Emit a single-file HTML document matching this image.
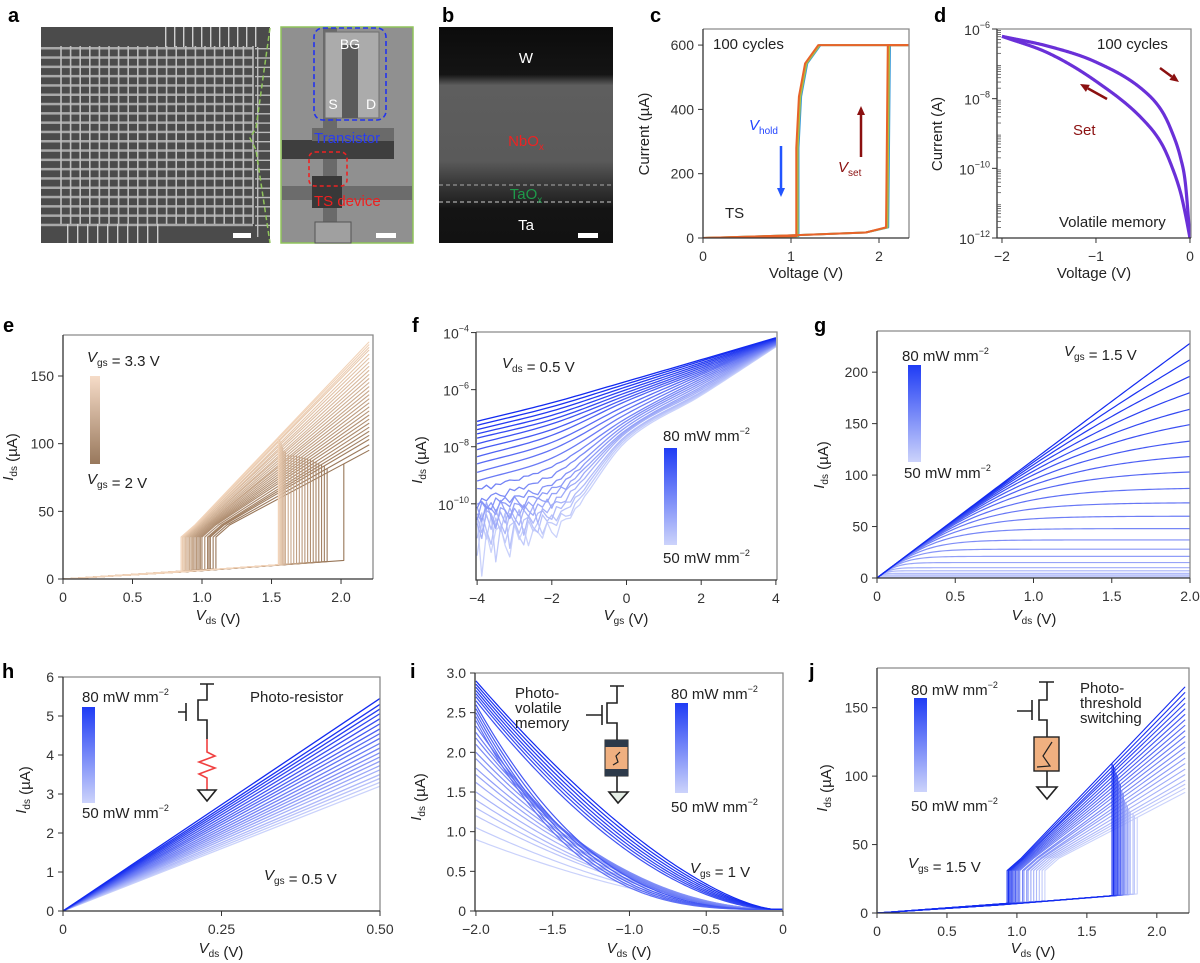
<!DOCTYPE html>
<html><head><meta charset="utf-8"><style>
html,body{margin:0;padding:0;background:#fff;}
svg{display:block;font-family:"Liberation Sans",sans-serif;}
</style></head><body>
<svg id="fig" width="1200" height="963" viewBox="0 0 1200 963" xmlns="http://www.w3.org/2000/svg">
<defs>
<linearGradient id="gBlue" x1="0" y1="0" x2="0" y2="1"><stop offset="0" stop-color="#1f3cf5"/><stop offset="1" stop-color="#ccd3fb"/></linearGradient>
<linearGradient id="gBrown" x1="0" y1="0" x2="0" y2="1"><stop offset="0" stop-color="#f6dcc8"/><stop offset="1" stop-color="#98785c"/></linearGradient>
<linearGradient id="gB" x1="0" y1="0" x2="0" y2="1"><stop offset="0" stop-color="#0c0c0c"/><stop offset="0.22" stop-color="#141414"/><stop offset="0.27" stop-color="#5e5e5e"/><stop offset="0.62" stop-color="#5a5a5a"/><stop offset="0.72" stop-color="#3a3a3a"/><stop offset="0.8" stop-color="#262626"/><stop offset="0.84" stop-color="#141414"/><stop offset="1" stop-color="#121212"/></linearGradient>
</defs>
</svg>
<script>
const NS='http://www.w3.org/2000/svg';
const svg=document.getElementById('fig');
function el(tag,attrs,name,parent){
  const e=document.createElementNS(NS,tag);
  for(const k in attrs)e.setAttribute(k,attrs[k]);
  
  
  (parent||svg).appendChild(e);return e;
}
function txt(x,y,html,name,o){
  o=o||{};
  const t=el('text',{x:x,y:y,'font-size':o.fs||14,fill:o.fill||'#222','text-anchor':o.anchor||'start'},name);
  if(o.bold)t.setAttribute('font-weight','bold');
  if(o.rot)t.setAttribute('transform','rotate(-90 '+x+' '+y+')');
  t.innerHTML=html;return t;
}
const sub=s=>'<tspan font-size="10" dy="4">'+s+'</tspan><tspan dy="-4"></tspan>';
const sup=s=>'<tspan font-size="9" dy="-7">'+s+'</tspan><tspan dy="7"></tspan>';
const it=s=>'<tspan font-style="italic">'+s+'</tspan>';
const IDS=it('I')+sub('ds')+' (µA)';

/* ---------- chart data ---------- */
// c: threshold switching I-V (V, µA)
const cUpV=[0,1.0,1.85,2.08,2.1,2.34];
const cUpI=[0,8,17,33,600,600];
const cDnV=[2.34,1.31,1.16,1.09,1.06,1.06,0];
const cDnI=[600,600,543,440,280,6,0];
// d: volatile memory log10(A)
const dV=[-2,-1.5,-1,-0.5,-0.3,-0.2,-0.1,-0.05,0];
const dUp=[-6.21,-6.5,-6.95,-7.75,-8.35,-8.9,-9.7,-10.4,-12];
const dLo=[-6.21,-6.7,-7.5,-8.6,-9.3,-9.9,-10.7,-11.3,-12];
// e: Vgs 2..3.3 V sweep
const eHold=[1.1,1.08,1.06,1.05,1.04,1.02,1.0,0.99,0.98,0.97,0.96,0.95,0.94,0.93,0.93,0.92,0.91,0.9,0.9,0.89,0.88,0.88,0.87,0.87,0.86,0.86,0.85,0.85];
const eSet=[2.02,1.9,1.88,1.86,1.84,1.82,1.8,1.78,1.76,1.74,1.72,1.7,1.68,1.66,1.64,1.62,1.6,1.6,1.59,1.58,1.58,1.57,1.57,1.56,1.56,1.55,1.55,1.55];
const eEnd=[95,99,103,106,109,112,115,118,121,124,127,130,133,136,139,142,145,148,151,154,157,160,163,166,169,171,173,175];
// f: transfer curves log10(A) at Vgs = -4,-2,0,2,4
const fX=[-4,-2,0,2,4];
const fM4=[-7.11,-7.25,-7.4,-7.55,-7.7,-7.9,-8.1,-8.35,-8.6,-8.9,-9.2,-9.5,-9.9,-10.1,-10.2,-10.3,-10.4,-10.5,-10.6,-10.8,-11.0,-11.2];
const fM2=[-6.46,-6.6,-6.75,-6.9,-7.05,-7.2,-7.4,-7.6,-7.85,-8.1,-8.4,-8.7,-9.0,-9.3,-9.5,-9.7,-9.9,-10.1,-10.3,-10.5,-10.7,-10.9];
const f0=[-5.71,-5.8,-5.9,-6.0,-6.1,-6.2,-6.3,-6.4,-6.55,-6.7,-6.85,-7.0,-7.1,-7.2,-7.3,-7.4,-7.45,-7.5,-7.6,-7.65,-7.72,-7.8];
const fP2=[-4.95,-5.0,-5.06,-5.12,-5.18,-5.24,-5.3,-5.36,-5.42,-5.48,-5.55,-5.62,-5.69,-5.76,-5.83,-5.9,-5.96,-6.02,-6.08,-6.12,-6.16,-6.2];
const fP4=[-4.18,-4.2,-4.22,-4.24,-4.26,-4.28,-4.3,-4.32,-4.34,-4.36,-4.38,-4.4,-4.41,-4.42,-4.43,-4.44,-4.45,-4.46,-4.47,-4.48,-4.49,-4.5];
const fNoise=[0.3,-0.5,0.6,-0.2,-0.9,0.4,-0.3,0.7,-1.4,0.2,-0.6,0.3,0.5,-0.4,-1.0,0.6,-0.2,0.4,-0.7,0.3,0.1,-0.5,0.8,-0.3,-1.2,0.4,0.2,-0.6];
// g: output curves, current at Vds = 2 V (µA)
const gEnd=[228,212,196,180,164,149,133,118,103,87,73,60,48,37,28,21,15,10,7,4.5,3,1.8,1];
// h: photo-resistor current at 0.5 V (µA)
const hEnd=[5.45,5.3,5.18,5.06,4.93,4.8,4.67,4.55,4.43,4.3,4.18,4.06,3.95,3.84,3.73,3.62,3.5,3.4,3.3,3.2];
// i: photo-volatile memory, current at -2 V and decay exponent
const iStart=[2.9,2.86,2.82,2.78,2.74,2.7,2.65,2.6,2.55,2.5,2.45,2.4,2.33,2.25,2.18,2.1,2.0,1.92,1.8,1.72,1.62,1.5,1.4,1.3,1.2,1.05,0.9];
const iPow=[1.5,1.55,1.6,1.65,1.7,1.75,1.8,2.6,2.7,2.8,2.9,3.0,2.4,2.3,2.2,2.1,2.0,2.0,1.9,1.9,1.85,1.8,1.8,1.75,1.7,1.7,1.65];
// j: photo threshold switching
const jHold=[0.93,0.94,0.95,0.95,0.96,0.97,0.98,0.99,1.0,1.01,1.02,1.04,1.05,1.07,1.08,1.1,1.12,1.14,1.16,1.18,1.2];
const jSet=[1.68,1.69,1.7,1.7,1.71,1.72,1.72,1.73,1.74,1.74,1.75,1.76,1.76,1.77,1.78,1.79,1.8,1.81,1.83,1.84,1.86];
const jEnd=[165,161,157,153,149,145,141,137,133,129,125,121,117,113,109,105,101,97,94,91,88];

/* ---------- helpers ---------- */
function mixCol(a,b,t){return 'rgb('+a.map((v,i)=>Math.round(v+(b[i]-v)*t)).join(',')+')';}
const BD=[18,42,240],BL=[202,210,251];
let clipN=0;
function panel(c){
  const g=el('g',{},c.name);
  const sx=v=>c.l+(v-c.xmin)/(c.xmax-c.xmin)*(c.r-c.l);
  const sy=v=>c.b-(v-c.ymin)/(c.ymax-c.ymin)*(c.b-c.t);
  clipN++;
  const cp=el('clipPath',{id:'cp'+clipN},c.name+'-clip',g);
  el('rect',{x:c.l,y:c.t,width:c.r-c.l,height:c.b-c.t},c.name+'-clip-rect',cp);
  const plot=el('g',{'clip-path':'url(#cp'+clipN+')'},c.name+'-plot-area',g);
  const axes=el('g',{},c.name+'-axes',g);
  el('path',{d:'M'+c.l+','+c.t+'H'+c.r+'V'+c.b,fill:'none',stroke:'#8a8a8a','stroke-width':1.3},c.name+'-frame',axes);
  el('path',{d:'M'+c.l+','+c.t+'V'+c.b+'H'+c.r,fill:'none',stroke:'#333','stroke-width':1.3},c.name+'-axis-lines',axes);
  c.xt.forEach((v,i)=>{const x=sx(v);
    el('line',{x1:x,x2:x,y1:c.b,y2:c.b+5,stroke:'#333'},c.name+'-x-tick',axes);
    txt(x,c.b+23,c.xl[i],c.name+'-x-tick-label',{anchor:'middle',fs:14,fill:'#333'});});
  c.yt.forEach((v,i)=>{const y=sy(v);
    el('line',{x1:c.l-5,x2:c.l,y1:y,y2:y,stroke:'#333'},c.name+'-y-tick',axes);
    txt(c.l-9,y+5,c.yl[i],c.name+'-y-tick-label',{anchor:'end',fs:14,fill:'#333'});});
  return {sx,sy,plot,axes};
}
function poly(p,pts,stroke,w,name){
  return el('polyline',{points:pts.map(q=>q[0].toFixed(2)+','+q[1].toFixed(2)).join(' '),fill:'none',stroke:stroke,'stroke-width':w,'stroke-linejoin':'round'},name,p);
}
// monotone cubic (Fritsch-Carlson) interpolation, works with non-uniform x
function cr(xs,ys,x){
  const n=xs.length;
  const d=[],m=new Array(n);
  for(let i=0;i<n-1;i++)d.push((ys[i+1]-ys[i])/(xs[i+1]-xs[i]));
  m[0]=d[0];m[n-1]=d[n-2];
  for(let i=1;i<n-1;i++)m[i]=(d[i-1]*d[i]<=0)?0:(d[i-1]+d[i])/2;
  for(let i=0;i<n-1;i++){if(d[i]===0){m[i]=0;m[i+1]=0;continue;}
    const a=m[i]/d[i],b=m[i+1]/d[i],s=a*a+b*b;
    if(s>9){const t=3/Math.sqrt(s);m[i]=t*a*d[i];m[i+1]=t*b*d[i];}}
  let i=0;while(i<n-2&&x>xs[i+1])i++;
  const h=xs[i+1]-xs[i],t=(x-xs[i])/h;
  const h00=2*t*t*t-3*t*t+1,h10=t*t*t-2*t*t+t,h01=-2*t*t*t+3*t*t,h11=t*t*t-t*t;
  return h00*ys[i]+h10*h*m[i]+h01*ys[i+1]+h11*h*m[i+1];
}
function colorbar(x,y1,y2,grad,name,top,bottom,w){
  el('rect',{x:x,y:y1,width:w||13,height:y2-y1,fill:'url(#'+grad+')'},name,svg);
  if(top)txt(top[0],top[1],top[2],name+'-top-label',{fs:15});
  if(bottom)txt(bottom[0],bottom[1],bottom[2],name+'-bottom-label',{fs:15});
}
function arrow(x1,y1,x2,y2,col,name){
  const a=Math.atan2(y2-y1,x2-x1),L=9,W=4;
  const bx=x2-L*Math.cos(a),by=y2-L*Math.sin(a);
  el('line',{x1:x1,y1:y1,x2:bx,y2:by,stroke:col,'stroke-width':2.5},name,svg);
  el('polygon',{points:[x2,y2,bx+W*Math.sin(a),by-W*Math.cos(a),bx-W*Math.sin(a),by+W*Math.cos(a)].join(','),fill:col},name+'-head',svg);
}
const MW='80 mW mm'+sup('−2'), MW5='50 mW mm'+sup('−2');

/* ---------- panel letters ---------- */
[['a',8,22],['b',442,22],['c',650,22],['d',934,22],['e',3,332],['f',412,332],['g',814,332],['h',2,678],['i',410,678],['j',809,678]].forEach(p=>{
  txt(p[1],p[2],p[0],'panel-letter-'+p[0],{fs:20,bold:true,fill:'#000'});
});

/* ---------- panel a images ---------- */
(function(){
  el('rect',{x:41,y:27,width:229,height:216,fill:'#4b4b4b'},'sem-array-image');
  for(let k=0;k<20;k++){const y=48+k*9.3;
    el('rect',{x:41,y:y-1,width:212,height:2.5,fill:'#a9a9a9'},'array-row-line');
  }
  for(let k=0;k<21;k++){const x=61+k*9.6;
    el('rect',{x:x-0.8,y:46,width:1.6,height:178,fill:'#bdbdbd'},'array-col-line');
  }
  for(let k=0;k<11;k++){el('rect',{x:165+k*9,y:27,width:1.4,height:20,fill:'#cfcfcf'},'array-top-pad');}
  for(let k=0;k<10;k++){el('rect',{x:67+k*10,y:224,width:1.4,height:19,fill:'#cfcfcf'},'array-bottom-pad');}
  for(let k=0;k<20;k++){el('rect',{x:255,y:48+k*9.3,width:15,height:1.4,fill:'#bbb'},'array-right-pad');}
  el('rect',{x:257,y:47,width:1.4,height:190,fill:'#bbb'},'array-right-bus');
  el('rect',{x:233,y:233,width:18,height:5,fill:'#fff'},'scale-bar-a1');
  el('path',{d:'M270,28 L256,128 L250,138 L256,150 L270,243',fill:'none',stroke:'#8fc45a','stroke-width':1.5,'stroke-dasharray':'5,3'},'zoom-guide');
  el('rect',{x:281,y:27,width:132,height:216,fill:'#909090',stroke:'#8fc45a','stroke-width':1.5},'sem-device-image');
  el('rect',{x:323,y:28,width:14,height:214,fill:'#6a6a6a'},'gate-stripe');
  el('rect',{x:325,y:32,width:54,height:86,fill:'#ababab',stroke:'#6e6e6e'},'transistor-region');
  el('rect',{x:342,y:45,width:16,height:73,fill:'#5a5a5a'},'bg-channel');
  el('rect',{x:282,y:140,width:112,height:19,fill:'#3e3e3e'},'horizontal-bar');
  el('rect',{x:312,y:128,width:82,height:13,fill:'#6a6a6a'},'transistor-contact');
  el('rect',{x:282,y:186,width:130,height:14,fill:'#6c6c6c'},'ts-line');
  el('rect',{x:312,y:176,width:30,height:32,fill:'#383838'},'ts-block');
  el('rect',{x:315,y:222,width:36,height:21,fill:'#a0a0a0',stroke:'#555'},'bottom-pad');
  el('rect',{x:314,y:28,width:72,height:92,rx:9,fill:'none',stroke:'#2233ee','stroke-width':1.6,'stroke-dasharray':'5,3'},'transistor-box');
  el('rect',{x:309,y:152,width:38,height:34,rx:6,fill:'none',stroke:'#ee2222','stroke-width':1.6,'stroke-dasharray':'4,3'},'ts-device-box');
  txt(350,49,'BG','bg-label',{fs:14,fill:'#fff',anchor:'middle'});
  txt(333,109,'S','s-label',{fs:14,fill:'#fff',anchor:'middle'});
  txt(371,109,'D','d-label',{fs:14,fill:'#fff',anchor:'middle'});
  txt(314,143,'Transistor','transistor-label',{fs:15,fill:'#2a3cf0'});
  txt(314,206,'TS device','ts-device-label',{fs:15,fill:'#ee2020'});
  el('rect',{x:376,y:233,width:20,height:5,fill:'#fff'},'scale-bar-a2');
  el('rect',{x:439,y:27,width:174,height:216,fill:'url(#gB)'},'tem-image');
  el('line',{x1:439,x2:613,y1:185,y2:185,stroke:'#aaa','stroke-dasharray':'4,3'},'interface-line-1');
  el('line',{x1:439,x2:613,y1:202,y2:202,stroke:'#ccc','stroke-dasharray':'4,3'},'interface-line-2');
  txt(526,63,'W','w-label',{fs:15,fill:'#fff',anchor:'middle'});
  txt(526,146,'NbO'+'<tspan font-size="10" dy="4">x</tspan>','nbox-label',{fs:15,fill:'#ee2222',anchor:'middle'});
  txt(526,199,'TaO'+'<tspan font-size="10" dy="4">x</tspan>','taox-label',{fs:15,fill:'#1e9a4a',anchor:'middle'});
  txt(526,230,'Ta','ta-label',{fs:15,fill:'#fff',anchor:'middle'});
  el('rect',{x:578,y:233,width:20,height:5,fill:'#fff'},'scale-bar-b');
})();

/* ---------- panel c ---------- */
(function(){
  const P=panel({name:'panel-c',l:703,r:909,t:29,b:238,xmin:0,xmax:2.341,ymin:0,ymax:650,xt:[0,1,2],xl:['0','1','2'],yt:[0,200,400,600],yl:['0','200','400','600']});
  [['#3a9ad8',0.025],['#b0c040',0.015],['#e8632a',0]].forEach((s,k)=>{
    const up=cUpV.map((v,i)=>[P.sx(v+(i>=3&&i<5?s[1]:0)),P.sy(cUpI[i])]);
    poly(P.plot,up,s[0],2,'c-sweep-up');
    const dn=cDnV.map((v,i)=>[P.sx(v+(i>0?s[1]:0)),P.sy(cDnI[i])]);
    poly(P.plot,dn,s[0],2,'c-sweep-down');
  });
  txt(806,278,'Voltage (V)','c-x-axis-title',{anchor:'middle',fs:15});
  txt(649,134,'Current (µA)','c-y-axis-title',{anchor:'middle',fs:15,rot:true});
  txt(713,49,'100 cycles','c-annotation-cycles',{fs:15});
  txt(725,218,'TS','c-annotation-ts',{fs:15});
  txt(749,130,it('V')+sub('hold'),'c-vhold-label',{fs:15,fill:'#2244ff'});
  arrow(781,146,781,197,'#2255ff','c-vhold-arrow');
  txt(838,172,it('V')+sub('set'),'c-vset-label',{fs:15,fill:'#8b1010'});
  arrow(861,157,861,106,'#8b1010','c-vset-arrow');
})();

/* ---------- panel d ---------- */
(function(){
  const P=panel({name:'panel-d',l:997,r:1191,t:29,b:238,xmin:-2.053,xmax:0.011,ymin:-12,ymax:-6,xt:[-2,-1,0],xl:['−2','−1','0'],yt:[],yl:[]});
  [-6,-8,-10,-12].forEach(e=>{const y=P.sy(e);
    el('line',{x1:992,x2:997,y1:y,y2:y,stroke:'#333'},'d-y-tick',P.axes);
    txt(990,y+6,'10'+sup('−'+(-e)),'d-y-tick-label',{anchor:'end',fs:14,fill:'#333'});});
  for(let e=-12;e<-6;e++)for(let m=2;m<10;m++){const y=P.sy(e+Math.log10(m));
    el('line',{x1:997,x2:1001,y1:y,y2:y,stroke:'#555','stroke-width':0.8},'d-minor-tick',P.axes);}
  [dUp,dLo].forEach((arr,k)=>{
    const pts=[];for(let v=-2;v<=0.0001;v+=0.005){pts.push([P.sx(v),P.sy(cr(dV,arr,v))]);}
    poly(P.plot,pts,'#6a30d8',3.2,'d-curve-'+k);
  });
  txt(1094,278,'Voltage (V)','d-x-axis-title',{anchor:'middle',fs:15});
  txt(942,134,'Current (A)','d-y-axis-title',{anchor:'middle',fs:15,rot:true});
  txt(1097,49,'100 cycles','d-annotation-cycles',{fs:15});
  txt(1059,227,'Volatile memory','d-annotation-volatile',{fs:15});
  txt(1073,135,'Set','d-set-label',{fs:15,fill:'#8b1010'});
  arrow(1107,99,1080,84,'#8b1010','d-arrow-left');
  arrow(1160,68,1179,82,'#8b1010','d-arrow-right');
})();

/* ---------- threshold switching families (e, j) ---------- */
function tsFamily(P,hold,set,end,lowK,cFn,name){
  const n=hold.length;
  for(let i=0;i<n;i++){
    const t=i/(n-1);
    const h0=31, hk=h0+9;
    const highAt=v=>v<=hold[i]+0.1? h0+(hk-h0)*(v-hold[i])/0.1 : hk+(end[i]-hk)*(v-hold[i]-0.1)/(2.2-hold[i]-0.1);
    const pts=[[0,0],[set[i]*0.5,lowK*set[i]*0.45],[set[i],lowK*set[i]],[set[i],highAt(set[i])],[2.2,end[i]],[hold[i]+0.1,hk],[hold[i],h0],[hold[i],lowK*hold[i]],[0,0]];
    poly(P.plot,pts.map(q=>[P.sx(q[0]),P.sy(q[1])]),cFn(t),1.1,name);
  }
}
/* ---------- panel e ---------- */
(function(){
  const P=panel({name:'panel-e',l:63,r:373,t:335,b:579,xmin:0,xmax:2.23,ymin:0,ymax:180.3,xt:[0,0.5,1,1.5,2],xl:['0','0.5','1.0','1.5','2.0'],yt:[0,50,100,150],yl:['0','50','100','150']});
  tsFamily(P,eHold,eSet,eEnd,6.8,t=>mixCol([152,118,88],[242,212,186],t),'e-curve');
  txt(218,620,it('V')+sub('ds')+' (V)','e-x-axis-title',{anchor:'middle',fs:15});
  txt(13,457,IDS,'e-y-axis-title',{anchor:'middle',fs:15,rot:true});
  colorbar(90,376,464,'gBrown','e-colorbar',[87,362,it('V')+sub('gs')+' = 3.3 V'],[87,484,it('V')+sub('gs')+' = 2 V'],10);
})();

/* ---------- panel f ---------- */
(function(){
  const P=panel({name:'panel-f',l:476,r:777,t:332,b:580,xmin:-4.03,xmax:4.03,ymin:-12.67,ymax:-3.98,xt:[-4,-2,0,2,4],xl:['−4','−2','0','2','4'],yt:[],yl:[]});
  [-4,-6,-8,-10].forEach(e=>{const y=P.sy(e);
    el('line',{x1:471,x2:476,y1:y,y2:y,stroke:'#333'},'f-y-tick',P.axes);
    txt(469,y+6,'10'+sup('−'+(-e)),'f-y-tick-label',{anchor:'end',fs:14,fill:'#333'});});
  const n=fM4.length;
  for(let i=n-1;i>=0;i--){
    const ys=[fM4[i],fM2[i],f0[i],fP2[i],fP4[i]];
    const pts=[];
    for(let k=0;k<=64;k++){const v=-4+k*0.125;
      let y=cr(fX,ys,v);
      if(i>=11&&v<-1){const amp=(i-10)/11*(-1-v)/3;y+=amp*fNoise[(k+i*3)%fNoise.length];}
      pts.push([P.sx(v),P.sy(y)]);}
    poly(P.plot,pts,mixCol(BD,BL,i/(n-1)),1.3,'f-curve');
  }
  txt(626,620,it('V')+sub('gs')+' (V)','f-x-axis-title',{anchor:'middle',fs:15});
  txt(422,460,IDS,'f-y-axis-title',{anchor:'middle',fs:15,rot:true});
  txt(502,368,it('V')+sub('ds')+' = 0.5 V','f-vds-annotation',{fs:15});
  colorbar(664,448,545,'gBlue','f-colorbar',[663,441,MW],[663,563,MW5]);
})();

/* ---------- panel g ---------- */
(function(){
  const P=panel({name:'panel-g',l:877,r:1190,t:331,b:578,xmin:0,xmax:2,ymin:0,ymax:240,xt:[0,0.5,1,1.5,2],xl:['0','0.5','1.0','1.5','2.0'],yt:[0,50,100,150,200],yl:['0','50','100','150','200']});
  const k0=115;
  const n=gEnd.length;
  for(let i=n-1;i>=0;i--){
    let lo=gEnd[i]*0.5,hi=1e6;
    for(let it2=0;it2<80;it2++){const m=(lo+hi)/2; if(m*Math.tanh(k0*2/m)>gEnd[i])hi=m;else lo=m;}
    const S=(lo+hi)/2;
    const pts=[];for(let v=0;v<=2.0001;v+=0.02)pts.push([P.sx(v),P.sy(S*Math.tanh(k0*v/S))]);
    poly(P.plot,pts,mixCol(BD,BL,i/(n-1)),1.2,'g-curve');
  }
  txt(1034,620,it('V')+sub('ds')+' (V)','g-x-axis-title',{anchor:'middle',fs:15});
  txt(824,465,IDS,'g-y-axis-title',{anchor:'middle',fs:15,rot:true});
  txt(1064,356,it('V')+sub('gs')+' = 1.5 V','g-vgs-annotation',{fs:15});
  colorbar(908,365,462,'gBlue','g-colorbar',[902,361,MW],[904,478,MW5]);
})();

/* ---------- panel h ---------- */
(function(){
  const P=panel({name:'panel-h',l:63,r:380,t:677,b:911,xmin:0,xmax:0.5,ymin:0,ymax:6,xt:[0,0.25,0.5],xl:['0','0.25','0.50'],yt:[0,1,2,3,4,5,6],yl:['0','1','2','3','4','5','6']});
  const n=hEnd.length;
  for(let i=n-1;i>=0;i--)poly(P.plot,[[P.sx(0),P.sy(0)],[P.sx(0.5),P.sy(hEnd[i])]],mixCol(BD,BL,i/(n-1)),1.3,'h-line');
  txt(221,953,it('V')+sub('ds')+' (V)','h-x-axis-title',{anchor:'middle',fs:15});
  txt(26,790,IDS,'h-y-axis-title',{anchor:'middle',fs:15,rot:true});
  txt(250,702,'Photo-resistor','h-annotation',{fs:15});
  txt(264,880,it('V')+sub('gs')+' = 0.5 V','h-vgs-annotation',{fs:15});
  colorbar(82,707,803,'gBlue','h-colorbar',[82,702,MW],[82,818,MW5]);
  const C='#222';
  el('path',{d:'M200,684H214M207,684V700H198V720H207V739M186,703V721M178,712H186',fill:'none',stroke:C,'stroke-width':1.6},'h-transistor-symbol');
  el('path',{d:'M207,739V752L215,756L199,762L215,768L199,774L207,778V790',fill:'none',stroke:'#f04040','stroke-width':1.6},'h-resistor-symbol');
  el('path',{d:'M198,790H216L207,801Z',fill:'none',stroke:C,'stroke-width':1.6},'h-ground-symbol');
})();

/* ---------- panel i ---------- */
(function(){
  const P=panel({name:'panel-i',l:475,r:783,t:673,b:911,xmin:-2.006,xmax:0,ymin:0,ymax:3,xt:[-2,-1.5,-1,-0.5,0],xl:['−2.0','−1.5','−1.0','−0.5','0'],yt:[0,0.5,1,1.5,2,2.5,3],yl:['0','0.5','1.0','1.5','2.0','2.5','3.0']});
  const n=iStart.length,V0=-0.05;
  for(let i=n-1;i>=0;i--){
    const pts=[];for(let v=-2;v<=0.0001;v+=0.02){
      const r=v<V0?(v-V0)/(-2-V0):0;
      pts.push([P.sx(v),P.sy(0.02+(iStart[i]-0.02)*Math.pow(r,iPow[i]))]);}
    poly(P.plot,pts,mixCol(BD,BL,i/(n-1)),1.2,'i-curve');
  }
  txt(629,953,it('V')+sub('ds')+' (V)','i-x-axis-title',{anchor:'middle',fs:15});
  txt(421,797,IDS,'i-y-axis-title',{anchor:'middle',fs:15,rot:true});
  txt(515,698,'Photo-','i-annotation-1',{fs:15});
  txt(515,713,'volatile','i-annotation-2',{fs:15});
  txt(515,728,'memory','i-annotation-3',{fs:15});
  txt(690,873,it('V')+sub('gs')+' = 1 V','i-vgs-annotation',{fs:15});
  colorbar(675,703,793,'gBlue','i-colorbar',[671,699,MW],[671,812,MW5]);
  const C='#222';
  el('path',{d:'M610,686H624M617,686V703H607V723H617V740M602,705V725M586,715H602',fill:'none',stroke:C,'stroke-width':1.6},'i-transistor-symbol');
  el('rect',{x:605,y:740,width:23,height:36,fill:'#f0b080',stroke:C},'i-memory-body');
  el('rect',{x:605,y:740,width:23,height:7,fill:'#2d3a4a'},'i-memory-cap-top');
  el('rect',{x:605,y:769,width:23,height:7,fill:'#2d3a4a'},'i-memory-cap-bottom');
  el('path',{d:'M620,752L616,756L618,762L613,765',fill:'none',stroke:C,'stroke-width':1.2},'i-filament');
  el('path',{d:'M617,776V792M609,792H628L618,803Z',fill:'#e6efe6',stroke:C,'stroke-width':1.6},'i-ground-symbol');
})();

/* ---------- panel j ---------- */
(function(){
  const P=panel({name:'panel-j',l:877,r:1189,t:668,b:913,xmin:0,xmax:2.23,ymin:0,ymax:179,xt:[0,0.5,1,1.5,2],xl:['0','0.5','1.0','1.5','2.0'],yt:[0,50,100,150],yl:['0','50','100','150']});
  tsFamily(P,jHold.slice().reverse(),jSet.slice().reverse(),jEnd.slice().reverse(),7.5,t=>mixCol(BL,BD,t),'j-curve');
  txt(1033,953,it('V')+sub('ds')+' (V)','j-x-axis-title',{anchor:'middle',fs:15});
  txt(827,788,IDS,'j-y-axis-title',{anchor:'middle',fs:15,rot:true});
  txt(1080,693,'Photo-','j-annotation-1',{fs:15});
  txt(1080,708,'threshold','j-annotation-2',{fs:15});
  txt(1080,723,'switching','j-annotation-3',{fs:15});
  txt(908,868,it('V')+sub('gs')+' = 1.5 V','j-vgs-annotation',{fs:15});
  colorbar(914,698,792,'gBlue','j-colorbar',[911,695,MW],[911,811,MW5]);
  const C='#222';
  el('path',{d:'M1039,682H1054M1047,682V700H1039V720H1047V737M1032,700V720M1017,711H1032',fill:'none',stroke:C,'stroke-width':1.6},'j-transistor-symbol');
  el('rect',{x:1034,y:737,width:25,height:34,fill:'#f0b080',stroke:C,'stroke-width':1.4},'j-ts-body');
  el('path',{d:'M1052,742L1043,756L1050,766L1037,767',fill:'none',stroke:C,'stroke-width':1.2},'j-ts-symbol');
  el('path',{d:'M1047,771V787M1037,787H1057L1047,799Z',fill:'none',stroke:C,'stroke-width':1.6},'j-ground-symbol');
})();
</script>
</body></html>
